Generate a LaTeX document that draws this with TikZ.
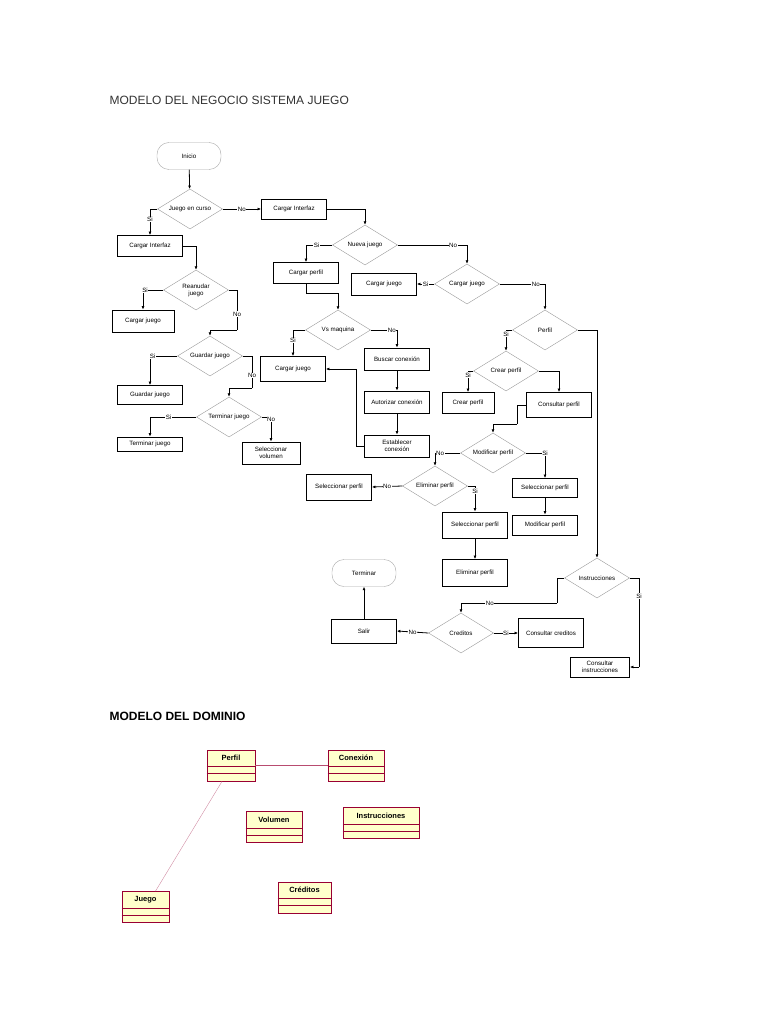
\documentclass[tikz,border=0pt]{standalone}
\usepackage{fontspec}
\setmainfont{Liberation Sans}
\usetikzlibrary{shapes.geometric,arrows.meta,calc}
\definecolor{clsfill}{HTML}{FFFFCC}
\definecolor{clsdraw}{HTML}{990033}
\newcommand\umlcls[5]{%
  \node[cls,minimum width=#4,minimum height=31] (#1) at (#2,#3) {};
  \node[font=\fontsize{7.5}{8}\selectfont\bfseries] at ($(#1.north)+(0,8.5)$) {#5};
  \draw[clsline] ($(#1.north west)+(0,17)$) -- ($(#1.north east)+(0,17)$);
  \draw[clsline] ($(#1.north west)+(0,24)$) -- ($(#1.north east)+(0,24)$);}
\begin{document}
\begin{tikzpicture}[x=1pt,y=-1pt,
  every node/.style={font=\fontsize{6.2}{6.8}\selectfont},
  box/.style={draw,thick,minimum width=65,minimum height=21,inner sep=1pt,align=center},
  term/.style={draw=gray!70,rounded corners=12pt,minimum width=64,minimum height=27},
  dia/.style={diamond,draw=gray!80,minimum width=65,minimum height=40,inner sep=0pt,aspect=1.6,align=center},
  arr/.style={thick,-{Latex[length=3.5pt,width=3pt]}},
  ln/.style={thick},
  lbl/.style={fill=white,inner sep=0.5pt},
  cls/.style={draw=clsdraw,fill=clsfill,thick},
  clsline/.style={draw=clsdraw,thick}]
\useasboundingbox (0,0) rectangle (768,1024);
\node[anchor=west,font=\fontsize{12}{14}\selectfont,text=black!80] (t1) at (106,100) {MODELO DEL NEGOCIO SISTEMA JUEGO};
\node[anchor=west,font=\fontsize{12}{14}\selectfont\bfseries] (t2) at (106,716) {MODELO DEL DOMINIO};
% flowchart nodes
\node[term] (ini) at (189,156) {Inicio};
\node[dia] (d1) at (190,209) {Juego en curso};
\node[box] (ci1) at (150,246) {Cargar Interfaz};
\node[dia] (d2) at (196,290) {Reanudar\\juego};
\node[box,minimum width=62,minimum height=22] (cj1) at (143,321) {Cargar juego};
\node[dia] (d3) at (210,356) {Guardar juego};
\node[box,minimum height=19] (gj) at (150,395) {Guardar juego};
\node[dia] (d4) at (229,417) {Terminar juego};
\node[box,minimum height=14] (tj) at (150,444) {Terminar juego};
\node[box,minimum width=58,minimum height=22] (sv) at (271,453) {Seleccionar\\volumen};
\node[box,minimum height=20] (ci2) at (294,209) {Cargar Interfaz};
\node[dia] (d5) at (365,245) {Nueva juego};
\node[box] (cp) at (306,273) {Cargar perfil};
\node[dia] (d6) at (467,284) {Cargar juego};
\node[box,minimum height=22] (cj2) at (384,284) {Cargar juego};
\node[dia] (d7) at (545,330) {Perfil};
\node[dia] (d9) at (338,330) {Vs maquina};
\node[box,minimum height=25] (cj3) at (293,369) {Cargar juego};
\node[box,minimum height=22] (bc) at (397,359) {Buscar conexión};
\node[box,minimum height=22] (ac) at (397,402) {Autorizar conexión};
\node[box,minimum height=22] (ec) at (397,446) {Establecer\\conexión};
\node[dia] (d8) at (506,371) {Crear perfil};
\node[box,minimum width=52] (crp) at (468,403) {Crear perfil};
\node[box,minimum height=25] (cop) at (559,405) {Consultar perfil};
\node[dia] (d10) at (493,453) {Modificar perfil};
\node[dia] (d11) at (435,486) {Eliminar perfil};
\node[box,minimum height=26] (sp1) at (339,487) {Seleccionar perfil};
\node[box,minimum height=26] (sp2) at (475,525) {Seleccionar perfil};
\node[box,minimum height=27] (ep) at (475,573) {Eliminar perfil};
\node[box,minimum height=19] (selp) at (545,488) {Seleccionar perfil};
\node[box,minimum height=20] (mp) at (545,525) {Modificar perfil};
\node[dia] (d12) at (597,578) {Instrucciones};
\node[dia] (d13) at (461,633) {Creditos};
\node[box,minimum height=24] (salir) at (364,631) {Salir};
\node[term] (fin) at (364,573) {Terminar};
\node[box,minimum height=29] (cc) at (551,633) {Consultar creditos};
\node[box,minimum width=59,minimum height=20] (cins) at (600,667) {Consultar\\instrucciones};
% helper coordinates
\coordinate (k1) at (237,330);
\coordinate (k2) at (252,388);
\coordinate (k3) at (338,293);
\coordinate (k4) at (356,369);
\coordinate (k6) at (517,424);
\coordinate (k7) at (557,603);
\coordinate (k8) at (639,667);
% connectors
\draw[arr] (ini) -- (d1);
\draw[arr] (d1.west) -| node[lbl,pos=0.7]{Si} (ci1.north);
\draw[arr] (d1.east) -- node[lbl]{No} (ci2.west);
\draw[arr] (ci1.east) -| (d2.north);
\draw[arr] (d2.west) -| node[lbl,pos=0.45]{Si} (cj1.north);
\draw[ln] (d2.east) -| node[lbl,pos=0.8]{No} (k1);
\draw[arr] (k1) -| (d3.north);
\draw[arr] (d3.west) -| node[lbl,pos=0.45]{Si} (gj.north);
\draw[ln] (d3.east) -| node[lbl,pos=0.8]{No} (k2);
\draw[arr] (k2) -| (d4.north);
\draw[arr] (d4.west) -| node[lbl,pos=0.3]{Si} (tj.north);
\draw[arr] (d4.east) -| node[lbl,pos=0.55]{No} (sv.north);
\draw[arr] (ci2.east) -| (d5.north);
\draw[arr] (d5.west) -| node[lbl,pos=0.3]{Si} (cp.north);
\draw[arr] (d5.east) -| node[lbl,pos=0.4]{No} (d6.north);
\draw[arr] (d6.west) -- node[lbl]{Si} (cj2.east);
\draw[arr] (d6.east) -| node[lbl,pos=0.4]{No} (d7.north);
\draw[ln] (cp.south) |- (k3);
\draw[arr] (k3) -- (d9.north);
\draw[arr] (d9.west) -| node[lbl,pos=0.7]{Si} (cj3.north);
\draw[arr] (d9.east) -| node[lbl,pos=0.4]{No} (bc.north);
\draw[arr] (bc) -- (ac);
\draw[arr] (ac) -- (ec);
\draw[ln] (ec.west) -| (k4);
\draw[arr] (k4) -- (cj3.east);
\draw[arr] (d7.west) -| node[lbl,pos=0.6]{Si} (d8.north);
\draw[arr] (d7.east) -| (d12.north);
\draw[arr] (d8.west) -| node[lbl,pos=0.6]{Si} (crp.north);
\draw[arr] (d8.east) -| (cop.north);
\draw[ln] (cop.west) -| (k6);
\draw[arr] (k6) -| (d10.north);
\draw[arr] (d10.west) -| node[lbl,pos=0.4]{No} (d11.north);
\draw[arr] (d10.east) -| node[lbl,pos=0.5]{Si} (selp.north);
\draw[arr] (d11.west) -- node[lbl]{No} (sp1.east);
\draw[arr] (d11.east) -| node[lbl,pos=0.6]{Si} (sp2.north);
\draw[arr] (sp2) -- (ep);
\draw[arr] (selp) -- (mp);
\draw[ln] (d12.west) -| (k7);
\draw[arr] (k7) -| node[lbl,pos=0.35]{No} (d13.north);
\draw[arr] (d13.west) -- node[lbl]{No} (salir.east);
\draw[arr] (d13.east) -- node[lbl]{Si} (cc.west);
\draw[arr] (salir) -- (fin);
\draw[ln] (d12.east) -| node[lbl,pos=0.6]{Si} (k8);
\draw[arr] (k8) -- (cins.east);
% domain model
\umlcls{perfil}{231}{765.5}{48}{Perfil}
\umlcls{conexion}{356}{765.5}{56}{Conexión}
\umlcls{volumen}{274}{827}{56}{Volumen}
\umlcls{instr}{381}{823}{76}{Instrucciones}
\umlcls{creditos}{304.5}{897.5}{53}{Créditos}
\umlcls{juego}{145.5}{907}{47}{Juego}
\draw[clsdraw!70] (perfil.east) -- (conexion.west);
\draw[clsdraw!45] ($(perfil.south)+(-9,0)$) -- ($(juego.north)+(10,0)$);
\end{tikzpicture}
\end{document}
